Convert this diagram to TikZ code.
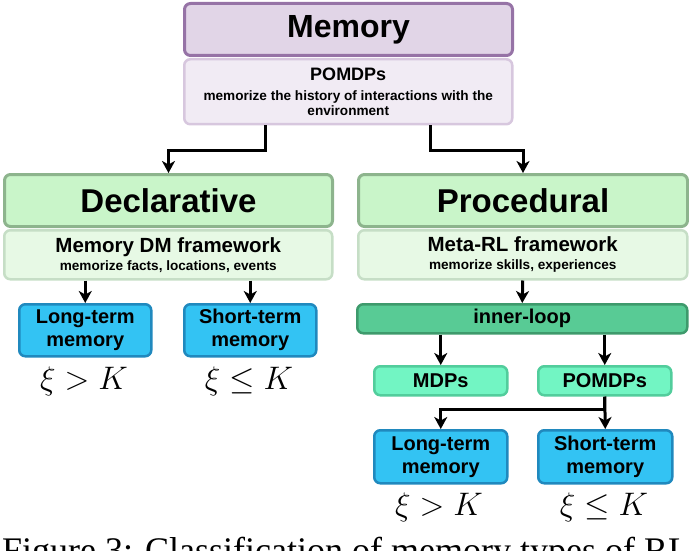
\documentclass[tikz,border=0pt]{standalone}
\usepackage[no-math]{fontspec}
\newfontfamily\hv{Liberation Sans}
\newfontfamily\tm{Liberation Serif}
\usetikzlibrary{arrows.meta,calc}
\newcommand\fsz[2]{\fontsize{#1}{#2}\selectfont}
\newcommand\bigmath[1]{\scalebox{1.31}{$#1$}}
\definecolor{memfill}{HTML}{E1D5E7}
\definecolor{memdraw}{HTML}{9673A6}
\definecolor{pomfill}{HTML}{F1EBF4}
\definecolor{pomdraw}{HTML}{D7C7DE}
\definecolor{decfill}{HTML}{C9F5C9}
\definecolor{decdraw}{HTML}{8DB48D}
\definecolor{subfill}{HTML}{E7F9E5}
\definecolor{subdraw}{HTML}{C6DEC6}
\definecolor{innfill}{HTML}{58CB95}
\definecolor{inndraw}{HTML}{3E9A6C}
\definecolor{mdpfill}{HTML}{72F5C3}
\definecolor{mdpdraw}{HTML}{52CD9C}
\definecolor{blufill}{HTML}{33C3F3}
\definecolor{bludraw}{HTML}{2089BE}
\tikzset{
  box/.style={rounded corners=6pt, line width=2.5pt, inner sep=0pt, anchor=north west, align=center, font=\hv\bfseries, text=black},
  titlebox/.style={box, line width=3pt},
  memnode/.style={box, fill=blufill, draw=bludraw, font=\hv\bfseries\fsz{20}{23}},
  mdpnode/.style={box, fill=mdpfill, draw=mdpdraw, font=\hv\bfseries\fsz{20}{22}},
  mathlbl/.style={anchor=base, inner sep=0pt, font=\fsz{24.88}{26}},
  arr/.style={line width=3pt, -{Stealth[length=12pt,width=13pt,inset=3.5pt]}}
}
\begin{document}
\begin{tikzpicture}[x=1pt,y=-1pt]
\useasboundingbox (0,0) rectangle (689,551);
\clip (0,0) rectangle (689,551);
% top
\node[titlebox, fill=memfill, draw=memdraw, minimum width=328pt, minimum height=52pt] (mem) at (183,2) {\fsz{32}{34}Memory};
\node[box, fill=pomfill, draw=pomdraw, minimum width=328pt, minimum height=65pt, font=\hv\bfseries\fsz{13.6}{15}] (pom) at (183,58)
  {{\fsz{18}{20}POMDPs}\\[4.5pt]memorize the history of interactions with the\\environment};
% declarative
\node[titlebox, fill=decfill, draw=decdraw, minimum width=328pt, minimum height=52pt] (dec) at (3,173) {\fsz{33}{36}Declarative};
\node[box, fill=subfill, draw=subdraw, minimum width=328pt, minimum height=49pt, font=\hv\bfseries\fsz{13.6}{15}] (dm) at (3,229)
  {{\fsz{20.5}{22}Memory DM framework}\\[3pt]memorize facts, locations, events};
\node[memnode, minimum width=132pt, minimum height=52pt] (lt1) at (18,303) {Long-term\\memory};
\node[memnode, minimum width=132pt, minimum height=52pt] (st1) at (183,303) {Short-term\\memory};
\node[mathlbl] (k1) at (84,389) {\bigmath{\xi > K}};
\node[mathlbl] (k2) at (249,389) {\bigmath{\xi \leq K}};
% procedural
\node[titlebox, fill=decfill, draw=decdraw, minimum width=329pt, minimum height=52pt] (pro) at (357,173) {\fsz{33}{36}Procedural};
\node[box, fill=subfill, draw=subdraw, minimum width=329pt, minimum height=49pt, font=\hv\bfseries\fsz{13.6}{15}] (meta) at (357,229)
  {{\fsz{20.5}{22}Meta-RL framework}\\[3pt]memorize skills, experiences};
\node[box, fill=innfill, draw=inndraw, minimum width=330pt, minimum height=29pt, font=\hv\bfseries\fsz{20}{22}] (inner) at (356,303) {inner-loop};
\node[mdpnode, minimum width=133pt, minimum height=29pt] (mdp) at (373,365) {MDPs};
\node[mdpnode, minimum width=133pt, minimum height=29pt] (pomdp) at (537,365) {POMDPs};
\node[memnode, minimum width=133pt, minimum height=53pt] (lt2) at (373,429) {Long-term\\memory};
\node[memnode, minimum width=134pt, minimum height=53pt] (st2) at (537,429) {Short-term\\memory};
\node[mathlbl] (k3) at (439,515) {\bigmath{\xi > K}};
\node[mathlbl] (k4) at (604,515) {\bigmath{\xi \leq K}};
% caption (cut off at the lower edge, as in the reference)
\node[anchor=base west, inner sep=0pt, font=\tm\fsz{36}{40}] (cap) at (2,562) {Figure 3: Classification of memory types of RL};
% connectors
\draw[arr] ($(pom.south west)!0.25!(pom.south east)$) -- ++(0,25) -| (dec.north);
\draw[arr] ($(pom.south west)!0.75!(pom.south east)$) -- ++(0,25) -| (pro.north);
\draw[arr] (dm.south -| lt1.north) -- (lt1.north);
\draw[arr] (dm.south -| st1.north) -- (st1.north);
\draw[arr] (meta.south) -- (inner.north);
\draw[arr] (inner.south -| mdp.north) -- (mdp.north);
\draw[arr] (inner.south -| pomdp.north) -- (pomdp.north);
\draw[arr] (pomdp.south) -- (st2.north);
\draw[arr] (pomdp.south) -- ++(0,13) -| (lt2.north);
\end{tikzpicture}
\end{document}
